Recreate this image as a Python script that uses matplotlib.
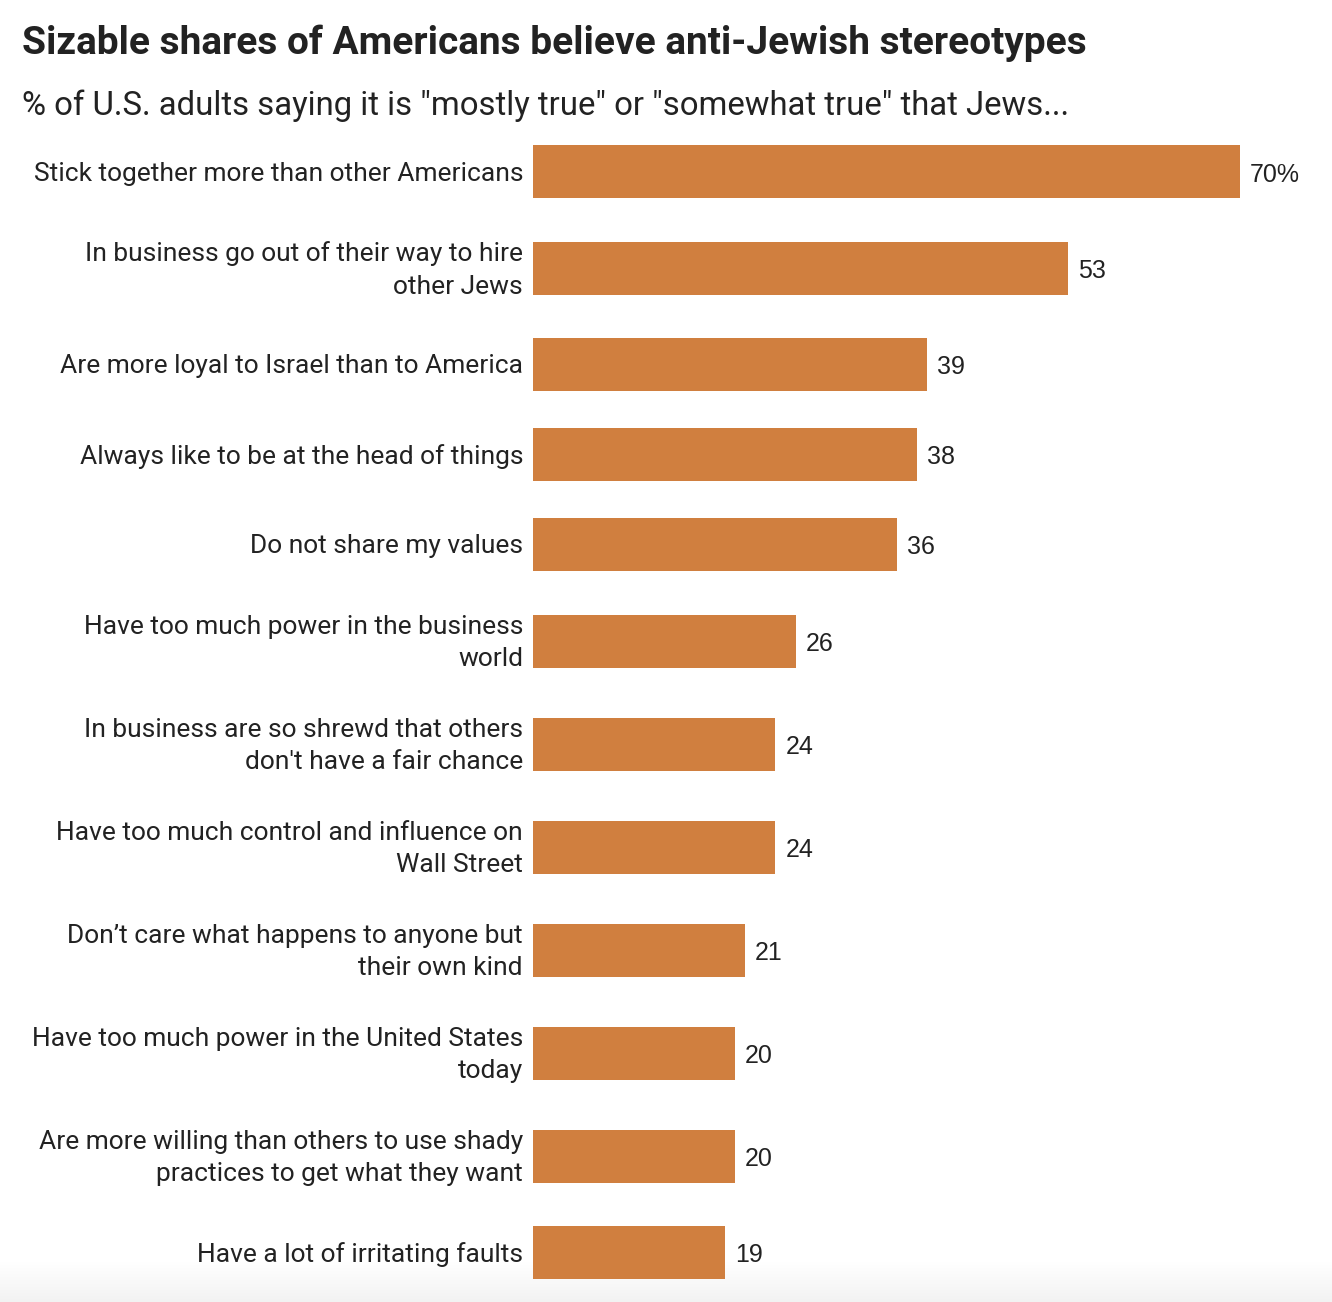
import matplotlib.pyplot as plt
import numpy as np

W, H = 1332, 1302
BAR_COLOR = '#d07f3f'
TEXT_COLOR = '#222222'
LABEL_FONT = ['Roboto', 'DejaVu Sans']
VALUE_FONT = ['Liberation Sans', 'DejaVu Sans']

title = 'Sizable shares of Americans believe anti-Jewish stereotypes'
subtitle = '% of U.S. adults saying it is "mostly true" or "somewhat true" that Jews...'

labels = [
    'Stick together more than other Americans',
    'In business go out of their way to hire\nother Jews',
    'Are more loyal to Israel than to America',
    'Always like to be at the head of things',
    'Do not share my values',
    'Have too much power in the business\nworld',
    'In business are so shrewd that others\ndon\'t have a fair chance',
    'Have too much control and influence on\nWall Street',
    'Don\u2019t care what happens to anyone but\ntheir own kind',
    'Have too much power in the United States\ntoday',
    'Are more willing than others to use shady\npractices to get what they want',
    'Have a lot of irritating faults',
]
values = [70, 53, 39, 38, 36, 26, 24, 24, 21, 20, 20, 19]

# row height depends on how many lines the label wraps to (pixel units)
row_h = {1: 90, 2: 103}
heights = [row_h[lab.count('\n') + 1] for lab in labels]
centers = [171.5]
for a, b in zip(heights[:-1], heights[1:]):
    centers.append(centers[-1] + (a + b) / 2)

fig = plt.figure(figsize=(W / 100, H / 100), dpi=100)

# faint grey fade at the bottom of the page
bg = fig.add_axes([0, 0, 1, 1], zorder=-1)
grad = np.linspace(0, 1, 200).reshape(-1, 1)
fade = plt.matplotlib.colors.LinearSegmentedColormap.from_list('f', ['#f2f2f2', '#ffffff'])
bg.imshow(grad, extent=(0, 1, 0, 0.03), cmap=fade, aspect='auto', origin='lower')
bg.set_xlim(0, 1)
bg.set_ylim(0, 1)
bg.axis('off')

x0, x70 = 533, 1240
ax = fig.add_axes([x0 / W, 0, (x70 - x0) / W, 1])
ax.barh(centers, values, height=53, color=BAR_COLOR)
ax.set_xlim(0, 70)
ax.set_ylim(H, 0)
ax.axis('off')

for i, (y, lab, v) in enumerate(zip(centers, labels, values)):
    ax.annotate(lab, (0, y), xytext=(-10, -2), textcoords='offset pixels',
                ha='right', va='center', fontsize=19, family=LABEL_FONT,
                color=TEXT_COLOR, linespacing=1.45, multialignment='right')
    txt = f'{v}%' if i == 0 else f'{v}'
    ax.annotate(txt, (v, y), xytext=(10, -3), textcoords='offset pixels',
                ha='left', va='center', fontsize=18, family=VALUE_FONT,
                color=TEXT_COLOR)

fig.text(22 / W, 1 - 43 / H, title, ha='left', va='center', fontsize=28,
         fontweight='bold', family=LABEL_FONT, color=TEXT_COLOR)
fig.text(22 / W, 1 - 106 / H, subtitle, ha='left', va='center', fontsize=23.7,
         family=LABEL_FONT, color=TEXT_COLOR)

fig.savefig('out.png', dpi=100)
